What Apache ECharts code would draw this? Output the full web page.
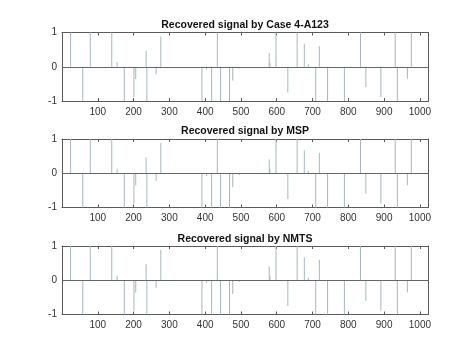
<!DOCTYPE html>
<html>
<head>
<meta charset="utf-8">
<script src="https://cdn.jsdelivr.net/npm/echarts@6/dist/echarts.min.js"></script>
<style>
html,body{margin:0;padding:0;background:#fff;}
#chart{width:474px;height:355px;}
</style>
</head>
<body>
<div id="chart"></div>
<script>
// Sample positions of the non-zero entries (x axis 0..1024)
var positions = [24, 58, 79, 139, 154, 174, 201, 206, 235, 237, 263, 276, 391, 404, 418, 434, 443, 468, 477, 495,
                 579, 581, 598, 631, 657, 677, 688, 709, 719, 742, 789, 834, 849, 891, 931, 937, 965, 976];
// Recovered values per method
var valuesCase = [1, -1, 1, 1, 0.13, -1, -0.88, -0.36, 0.47, -1, -0.22, 0.88, -1, -0.08, -1, 1, -1, -1, -0.4, -0.05,
                  0.4, 0.12, 1, -0.75, 1, 0.67, 0.07, -1, 0.6, -1, -1, 1, -0.6, -0.88, 1, -1, -0.35, 1];
var valuesMSP  = [1, -1, 1, 1, 0.13, -1, -0.88, -0.36, 0.47, -1, -0.22, 0.88, -1, -0.08, -1, 1, -1, -1, -0.4, -0.05,
                  0.4, 0.12, 1, -0.75, 1, 0.67, 0.07, -1, 0.6, -1, -1, 1, -0.6, -0.88, 1, -1, -0.35, 1];
var valuesNMTS = [1, -1, 1, 1, 0.13, -1, -0.88, -0.36, 0.47, -1, -0.22, 0.88, -1, -0.08, -1, 1, -1, -1, -0.4, -0.05,
                  0.4, 0.12, 1, -0.75, 1, 0.67, 0.07, -1, 0.6, -1, -1, 1, -0.6, -0.88, 1, -1, -0.35, 1];
var titles = ['Recovered signal by Case 4-A123', 'Recovered signal by MSP', 'Recovered signal by NMTS'];
var xTicks = [100, 200, 300, 400, 500, 600, 700, 800, 900, 1000];
var yTicks = [-1, 0, 1];

var allValues = [valuesCase, valuesMSP, valuesNMTS];
var gridTops = [32.5, 139, 246];
var titleTops = [19.5, 125.5, 233.5];
var font = "'Liberation Sans', Arial, Helvetica, sans-serif";
var axisColor = '#5a5a5a';

var grids = [], xAxes = [], yAxes = [], series = [], titleArr = [];
for (var i = 0; i < 3; i++) {
  grids.push({left: 62, right: 45.5, top: gridTops[i], height: 68.5, containLabel: false});
  titleArr.push({
    text: titles[i], left: 245, top: titleTops[i], textAlign: 'center', padding: 0,
    textStyle: {fontFamily: font, fontSize: 10.5, fontWeight: 'bold', color: '#111', lineHeight: 11}
  });
  var xBase = {
    type: 'value', gridIndex: i, min: 0, max: 1024, interval: 100,
    axisLine: {show: true, onZero: false, lineStyle: {color: axisColor, width: 1}},
    axisTick: {show: true, inside: true, length: 3, lineStyle: {color: axisColor}},
    splitLine: {show: false}
  };
  xAxes.push(Object.assign({}, xBase, {
    position: 'bottom',
    axisLabel: {show: true, margin: 6, fontFamily: font, fontSize: 10, color: '#333',
      showMinLabel: false, showMaxLabel: false,
      formatter: function (v) { return xTicks.indexOf(v) >= 0 ? String(v) : ''; }}
  }));
  xAxes.push(Object.assign({}, xBase, {position: 'top', axisLabel: {show: false}}));
  var yBase = {
    type: 'value', gridIndex: i, min: -1, max: 1, interval: 1,
    axisLine: {show: true, onZero: false, lineStyle: {color: axisColor, width: 1}},
    axisTick: {show: true, inside: true, length: 3, lineStyle: {color: axisColor}},
    splitLine: {show: false}
  };
  yAxes.push(Object.assign({}, yBase, {
    position: 'left',
    axisLabel: {show: true, margin: 5, fontFamily: font, fontSize: 10, color: '#333',
      formatter: function (v) { return yTicks.indexOf(v) >= 0 ? String(v) : ''; }}
  }));
  yAxes.push(Object.assign({}, yBase, {position: 'right', axisLabel: {show: false}}));

  var vals = allValues[i];
  var data = positions.map(function (p, k) { return [p, vals[k]]; });
  series.push({
    type: 'bar', xAxisIndex: 2 * i, yAxisIndex: 2 * i, data: data,
    barWidth: 1, silent: true, animation: false,
    itemStyle: {color: '#a3b8bd'},
    markLine: {
      silent: true, symbol: 'none', label: {show: false}, animation: false,
      lineStyle: {color: '#666', width: 1, type: 'solid'},
      data: [{yAxis: 0}]
    }
  });
}

var chart = echarts.init(document.getElementById('chart'), null, {renderer: 'canvas'});
chart.setOption({
  backgroundColor: '#fff',
  animation: false,
  title: titleArr,
  grid: grids,
  xAxis: xAxes,
  yAxis: yAxes,
  series: series
});
</script>
</body>
</html>
